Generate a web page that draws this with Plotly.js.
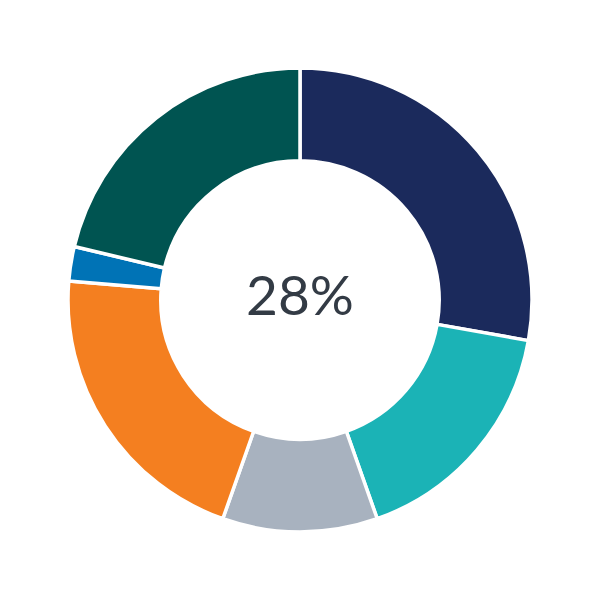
<!DOCTYPE html>
<html>
<head>
<meta charset="utf-8">
<script src="https://cdn.plot.ly/plotly-3.0.1.min.js"></script>
<style>
  html, body { margin: 0; padding: 0; background: #ffffff; }
  #chart { width: 600px; height: 600px; }
</style>
</head>
<body>
<div id="chart"></div>
<script>
// slice shares, clockwise from 12 o'clock
var labels = ['A', 'B', 'C', 'D', 'E', 'F'];
var values = [27.8, 16.8, 10.8, 20.9, 2.4, 21.3];
var colors = ['#1b2a5c', '#1bb3b6', '#a8b2bf', '#f47f20', '#0073b6', '#005451'];
var centerLabel = '28%';

var trace = {
    type: 'pie',
    labels: labels,
    values: values,
    hole: 0.6,
    sort: false,
    direction: 'clockwise',
    rotation: 0,
    textinfo: 'none',
    hoverinfo: 'label+percent',
    marker: {
        colors: colors,
        line: { color: '#ffffff', width: 3.5 }
    }
};

var layout = {
    width: 600,
    height: 600,
    showlegend: false,
    margin: { t: 68, b: 68, l: 68, r: 68 },
    paper_bgcolor: '#ffffff',
    annotations: [{
        text: centerLabel,
        x: 0.5, y: 0.5,
        xref: 'paper', yref: 'paper',
        yshift: 6,
        showarrow: false,
        font: { family: 'Lato, sans-serif', size: 55, color: '#333b45' }
    }]
};

Plotly.newPlot('chart', [trace], layout, { displayModeBar: false });
</script>
</body>
</html>
